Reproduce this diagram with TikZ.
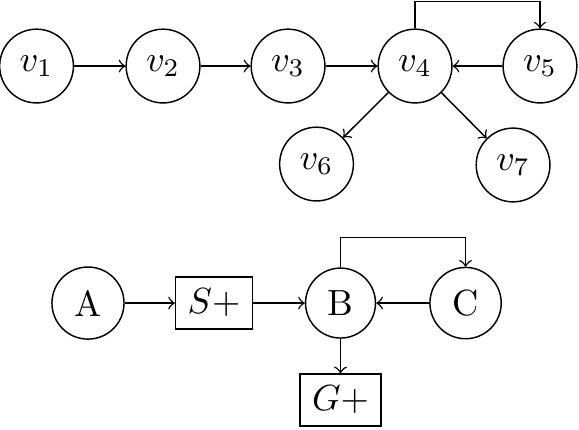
\documentclass[tikz,border=0pt]{standalone}
\usepackage{tikz}
\begin{document}
\begin{tikzpicture}[vert/.style={circle, draw}, blk/.style={rectangle, draw}]
            \useasboundingbox (0, 0) rectangle (5.594, 4.145);
            \node[vert] (v1) at (0.353, 3.507) {$v_1$};
            \node[vert] (v2) at (1.575, 3.507) {$v_2$};
            \node[vert] (v3) at (2.783, 3.507) {$v_3$};
            \node[vert] (v4) at (4.010, 3.507) {$v_4$};
            \node[vert] (v5) at (5.217, 3.507) {$v_5$};
            \node[vert] (v6) at (3.058, 2.560) {$v_6$};
            \node[vert] (v7) at (4.957, 2.551) {$v_7$};
            \draw[->] (v1) -- (v2);
            \draw[->] (v2) -- (v3);
            \draw[->] (v3) -- (v4);
            \draw[->] (v5) -- (v4);
            \draw[->] (v4) -- (v6);
            \draw[->] (v4) -- (v7);
            \draw[->] (v4.north) -- ++(0, 0.26) -| (v5.north);
            \node[vert] (a) at (0.850, 1.217) {A};
            \node[blk] (splus) at (2.068, 1.217) {$S+$};
            \node[vert] (b) at (3.290, 1.217) {B};
            \node[vert] (c) at (4.498, 1.217) {C};
            \node[blk] (gplus) at (3.290, 0.280) {$G+$};
            \draw[->] (a) -- (splus);
            \draw[->] (splus) -- (b);
            \draw[->] (c) -- (b);
            \draw[->] (b) -- (gplus);
            \draw[->] (b.north) -- ++(0, 0.29) -| (c.north);
        \end{tikzpicture}
\end{document}
